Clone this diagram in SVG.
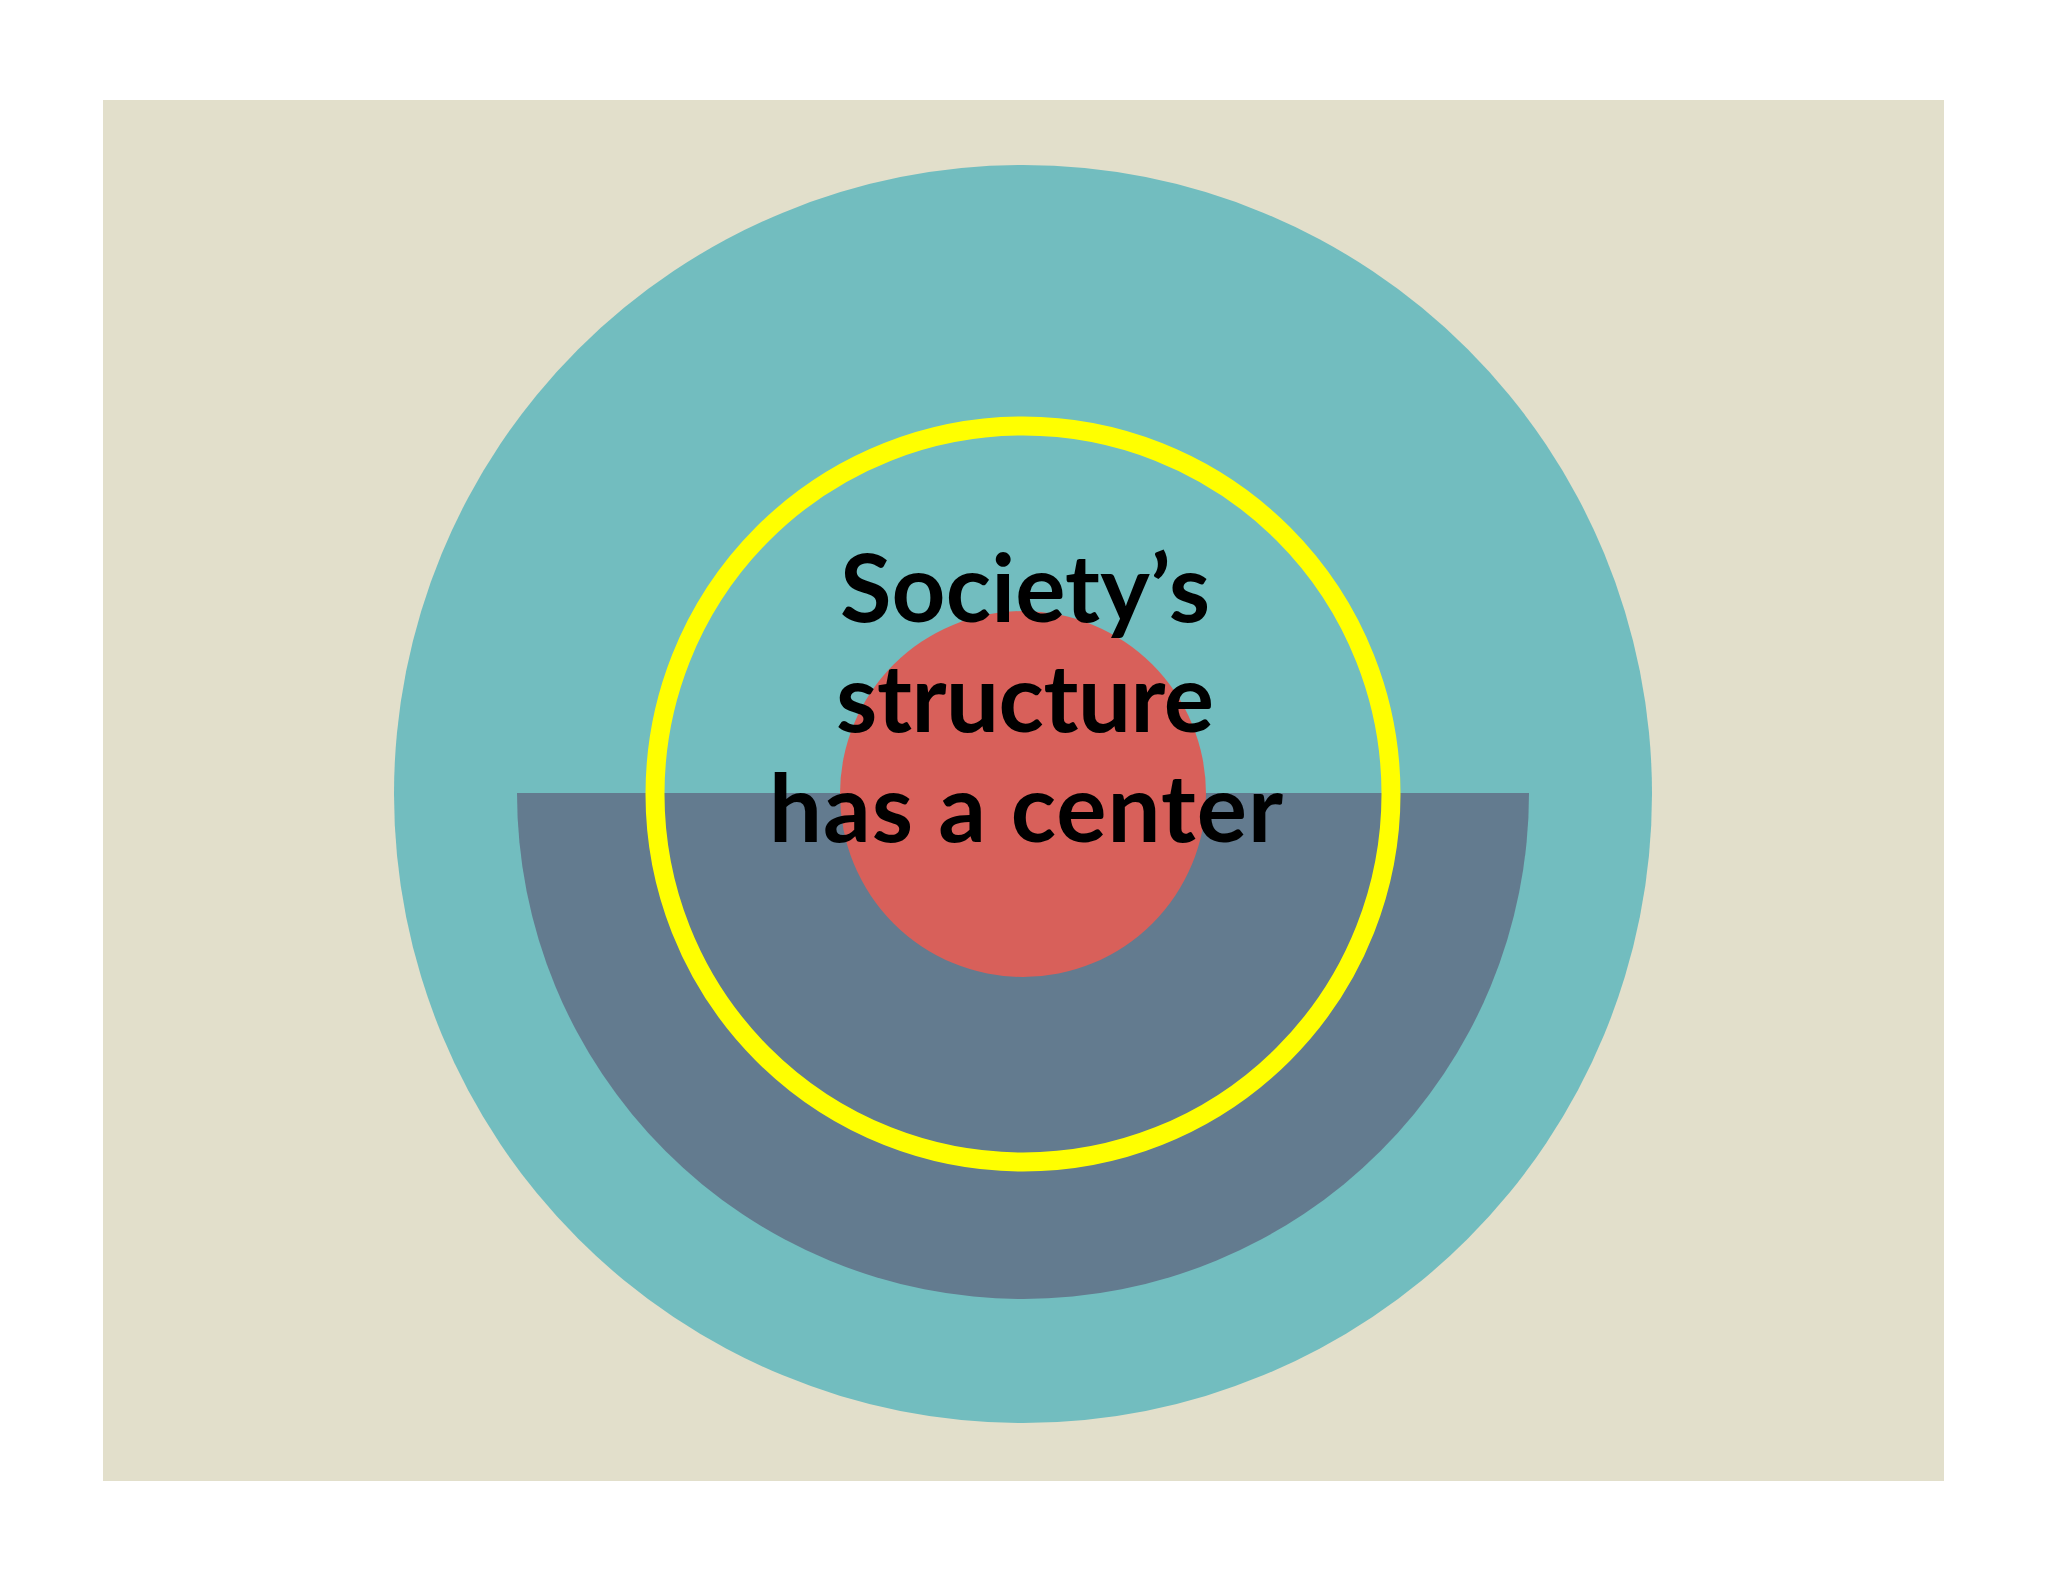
<svg xmlns="http://www.w3.org/2000/svg" width="2048" height="1582" viewBox="0 0 2048 1582">
<style>
.lbl{font-family:Lato,"Noto Sans","Liberation Sans",sans-serif;font-size:94px;font-weight:bold;fill:#000;text-anchor:middle}
</style>
<rect width="2048" height="1582" fill="#ffffff"/>
<g id="background"><rect x="103" y="100" width="1841" height="1381" fill="#E2DFCB"/></g>
<g id="outer-circle"><circle cx="1023" cy="794" r="629" fill="#72BDBF"/></g>
<g id="lower-half"><path d="M517 793 H1529 A506 506 0 0 1 517 793 Z" fill="#637B8F"/></g>
<g id="center"><circle cx="1023" cy="794" r="183" fill="#D8605A"/></g>
<g id="ring"><circle cx="1023" cy="794" r="368" fill="none" stroke="#FFFF00" stroke-width="19"/></g>
<g id="label">
<text class="lbl" x="1025" y="622" textLength="370" lengthAdjust="spacing">Society’s</text>
<text class="lbl" x="1025" y="732" textLength="378" lengthAdjust="spacing">structure</text>
<text class="lbl" x="1026" y="842" textLength="514" lengthAdjust="spacing">has a center</text>
</g>
<g id="connectors"/>
</svg>
